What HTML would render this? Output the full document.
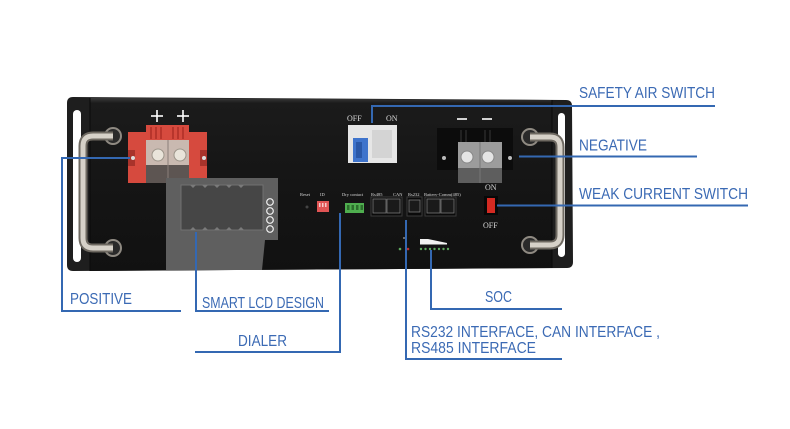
<!DOCTYPE html>
<html><head><meta charset="utf-8"><style>
html,body{margin:0;padding:0;background:#fff;}
svg{display:block;}
.lbl{font-family:"Liberation Sans",Arial,sans-serif;font-size:15.5px;fill:#3b6ab4;}
.tiny{font-family:"Liberation Serif",serif;fill:#d8d8d8;}
</style></head><body>
<svg width="790" height="429" viewBox="0 0 790 429" xmlns="http://www.w3.org/2000/svg">
<rect width="790" height="429" fill="#fff"/>
<defs>
<linearGradient id="body" x1="0" y1="0" x2="0" y2="1">
<stop offset="0" stop-color="#3a3a3a"/><stop offset="0.03" stop-color="#1b1b1b"/><stop offset="0.5" stop-color="#151515"/><stop offset="1" stop-color="#111"/>
</linearGradient>
<linearGradient id="metal" x1="0" y1="0" x2="1" y2="0">
<stop offset="0" stop-color="#8a847b"/><stop offset="0.4" stop-color="#e6e1d8"/><stop offset="1" stop-color="#7d776f"/>
</linearGradient>
</defs>
<!-- outer chassis with ears -->
<path d="M73,97 L566,100 Q572,100 572,106 L573,262 Q573,268 567,268 L73,271 Q67,271 67,265 L67,103 Q67,97 73,97 Z" fill="#1e1e1e"/>
<polygon points="90,98 552,100 552,268 90,271" fill="url(#body)"/>
<line x1="90" y1="98" x2="90" y2="271" stroke="#0a0a0a" stroke-width="1"/>
<line x1="552" y1="100" x2="552" y2="268" stroke="#0a0a0a" stroke-width="1"/>
<!-- slots -->
<rect x="73" y="110" width="8" height="152" rx="4" fill="#fff"/>
<rect x="558" y="113" width="7" height="144" rx="3.5" fill="#fff"/>
<!-- left handle -->
<circle cx="113" cy="136" r="8" fill="#2a2a2a" stroke="#8f8a82" stroke-width="2"/>
<circle cx="113" cy="248" r="8" fill="#2a2a2a" stroke="#8f8a82" stroke-width="2"/>
<path d="M113,136 L93,136 Q83,136 83,146 L83,238 Q83,248 93,248 L113,248" fill="none" stroke="#6e6961" stroke-width="9"/>
<path d="M113,136 L93,136 Q83,136 83,146 L83,238 Q83,248 93,248 L113,248" fill="none" stroke="#d6d1c8" stroke-width="5"/>
<!-- right handle -->
<circle cx="530" cy="137" r="8" fill="#2a2a2a" stroke="#8f8a82" stroke-width="2"/>
<circle cx="530" cy="245" r="8" fill="#2a2a2a" stroke="#8f8a82" stroke-width="2"/>
<path d="M530,137 L550,137 Q560,137 560,147 L560,235 Q560,245 550,245 L530,245" fill="none" stroke="#6e6961" stroke-width="9"/>
<path d="M530,137 L550,137 Q560,137 560,147 L560,235 Q560,245 550,245 L530,245" fill="none" stroke="#d6d1c8" stroke-width="5"/>
<!-- positive terminal -->
<g stroke="#fff" stroke-width="1.6"><line x1="151" y1="116" x2="163" y2="116"/><line x1="157" y1="110" x2="157" y2="122"/><line x1="177" y1="116" x2="189" y2="116"/><line x1="183" y1="110" x2="183" y2="122"/></g>
<path d="M146,125 L189,125 L189,132 L207,132 L207,183 L128,183 L128,132 L146,132 Z" fill="#d64a3e"/>
<g fill="#b8352c"><rect x="150" y="127" width="2" height="12"/><rect x="155" y="127" width="2" height="12"/><rect x="160" y="127" width="2" height="12"/><rect x="172" y="127" width="2" height="12"/><rect x="177" y="127" width="2" height="12"/><rect x="182" y="127" width="2" height="12"/></g>
<rect x="128" y="150" width="7" height="16" fill="#a8332b"/><rect x="200" y="150" width="7" height="16" fill="#a8332b"/>
<circle cx="133" cy="158" r="2" fill="#ddd"/><circle cx="204" cy="158" r="2" fill="#ddd"/>
<rect x="146" y="140" width="43" height="43" fill="#c9b9b0"/>
<rect x="146" y="165" width="43" height="18" fill="#5d5552"/>
<line x1="168" y1="140" x2="168" y2="183" stroke="#8a7f7a" stroke-width="1"/>
<circle cx="158" cy="155" r="6" fill="#e9e4da" stroke="#9d958a"/><circle cx="180" cy="155" r="6" fill="#e9e4da" stroke="#9d958a"/>
<!-- LCD film -->
<path d="M166,178 L278,178 L278,240 L265,240 L262,270 L166,270 Z" fill="#5f5f5f"/>
<rect x="181" y="185" width="82" height="45" fill="#464646" stroke="#707070" stroke-width="1"/>
<g fill="#7a7a7a"><polygon points="190,185 193,188 196,185"/><polygon points="202,185 205,188 208,185"/><polygon points="214,185 217,188 220,185"/><polygon points="226,185 229,188 232,185"/><polygon points="238,185 241,188 244,185"/><polygon points="190,230 193,227 196,230"/><polygon points="202,230 205,227 208,230"/><polygon points="214,230 217,227 220,230"/><polygon points="226,230 229,227 232,230"/><polygon points="238,230 241,227 244,230"/></g>
<g fill="none" stroke="#eee" stroke-width="1.2"><circle cx="270" cy="202" r="3.3"/><circle cx="270" cy="211" r="3.3"/><circle cx="270" cy="220" r="3.3"/><circle cx="270" cy="229" r="3.3"/></g>
<!-- breaker -->
<text x="347" y="121" class="tiny" font-size="8">OFF</text>
<text x="386" y="121" class="tiny" font-size="8">ON</text>
<rect x="348" y="125" width="49" height="38" fill="#e6e6e6"/>
<rect x="372" y="130" width="20" height="28" fill="#d4d4d4"/>
<rect x="353" y="138" width="15" height="24" fill="#3f74cc"/>
<rect x="356" y="142" width="6" height="16" fill="#2a58a8"/>
<!-- negative terminal -->
<g stroke="#fff" stroke-width="1.6"><line x1="457" y1="119" x2="467" y2="119"/><line x1="482" y1="119" x2="492" y2="119"/></g>
<rect x="437" y="128" width="76" height="42" fill="#0c0c0c"/>
<g fill="#222"><rect x="460" y="130" width="2" height="12"/><rect x="465" y="130" width="2" height="12"/><rect x="484" y="130" width="2" height="12"/><rect x="489" y="130" width="2" height="12"/></g>
<circle cx="444" cy="158" r="2" fill="#bbb"/><circle cx="510" cy="158" r="2" fill="#bbb"/>
<rect x="458" y="142" width="44" height="41" fill="#9c9c9c"/>
<rect x="458" y="168" width="44" height="15" fill="#5e5e5e"/>
<line x1="480" y1="142" x2="480" y2="183" stroke="#777" stroke-width="1"/>
<circle cx="467" cy="157" r="6" fill="#e4e4e4" stroke="#888"/><circle cx="488" cy="157" r="6" fill="#e4e4e4" stroke="#888"/>
<!-- weak switch -->
<text x="485" y="190" class="tiny" font-size="8">ON</text>
<rect x="484" y="196" width="14" height="19" fill="#080808"/>
<rect x="487" y="198" width="8" height="15" fill="#d42a22"/>
<text x="483" y="228" class="tiny" font-size="8">OFF</text>
<!-- small labels -->
<g class="tiny" font-size="4.5">
<text x="300" y="196">Reset</text><text x="320" y="196">ID</text><text x="342" y="196">Dry contact</text>
<text x="371" y="196">Rs485</text><text x="393" y="196">CAN</text><text x="408" y="196">Rs232</text><text x="424" y="196">Battery-Comm(485)</text>
</g>
<circle cx="307" cy="207" r="1.5" fill="#444"/>
<rect x="317" y="201" width="12" height="11" fill="#e05454"/>
<g fill="#f6c9c9"><rect x="319" y="203" width="1.5" height="4"/><rect x="322" y="203" width="1.5" height="4"/><rect x="325" y="203" width="1.5" height="4"/></g>
<rect x="345" y="203" width="19" height="10" fill="#4fae4f"/>
<g fill="#2c6e2c"><rect x="347" y="205" width="2.5" height="5"/><rect x="351.5" y="205" width="2.5" height="5"/><rect x="356" y="205" width="2.5" height="5"/><rect x="360.5" y="205" width="2.5" height="5"/></g>
<!-- ports -->
<rect x="371" y="197" width="31" height="19" fill="#0a0a0a" stroke="#3a3a3a"/>
<rect x="373" y="199" width="13" height="14" fill="#1a1a1a" stroke="#777" stroke-width="0.8"/>
<rect x="387" y="199" width="13" height="14" fill="#1a1a1a" stroke="#777" stroke-width="0.8"/>
<rect x="407" y="197" width="15" height="19" fill="#0a0a0a" stroke="#3a3a3a"/>
<rect x="409" y="200" width="11" height="12" fill="#1a1a1a" stroke="#777" stroke-width="0.8"/>
<rect x="425" y="197" width="31" height="19" fill="#0a0a0a" stroke="#3a3a3a"/>
<rect x="427" y="199" width="13" height="14" fill="#1a1a1a" stroke="#777" stroke-width="0.8"/>
<rect x="441" y="199" width="13" height="14" fill="#1a1a1a" stroke="#777" stroke-width="0.8"/>
<!-- LEDs -->
<polygon points="420,239 428,239 447,243 447,244.5 420,244.5" fill="#f2f2f2"/>
<g fill="#5ea85e"><circle cx="421" cy="249" r="1.2"/><circle cx="425.5" cy="249" r="1.2"/><circle cx="430" cy="249" r="1.2"/><circle cx="434.5" cy="249" r="1.2"/><circle cx="439" cy="249" r="1.2"/><circle cx="443.5" cy="249" r="1.2"/><circle cx="448" cy="249" r="1.2"/></g>
<circle cx="400" cy="249" r="1.3" fill="#5ea85e"/><circle cx="408" cy="249" r="1.3" fill="#c03030"/>
<circle cx="404" cy="238" r="1" fill="#888"/>
<!-- callout lines -->
<g fill="none" stroke="#3468b2" stroke-width="2">
<polyline points="372,123 372,106 715,106"/>
<polyline points="519,156.5 697,156.5"/>
<polyline points="497,205.5 748,205.5"/>
<polyline points="130,158 62,158 62,311 181,311"/>
<polyline points="196,232 196,311 329,311"/>
<polyline points="340,213 340,352 195,352"/>
<polyline points="406,220 406,359 562,359"/>
<polyline points="431,250 431,309 562,309"/>
</g>
<!-- labels -->
<text class="lbl" x="579" y="98" textLength="136" lengthAdjust="spacingAndGlyphs">SAFETY AIR SWITCH</text>
<text class="lbl" x="579" y="150.5" textLength="68" lengthAdjust="spacingAndGlyphs">NEGATIVE</text>
<text class="lbl" x="579" y="199" textLength="169" lengthAdjust="spacingAndGlyphs">WEAK CURRENT SWITCH</text>
<text class="lbl" x="70" y="304" textLength="62" lengthAdjust="spacingAndGlyphs">POSITIVE</text>
<text class="lbl" x="202" y="308" textLength="122" lengthAdjust="spacingAndGlyphs">SMART LCD DESIGN</text>
<text class="lbl" x="238" y="346" textLength="49" lengthAdjust="spacingAndGlyphs">DIALER</text>
<text class="lbl" x="485" y="302" textLength="27" lengthAdjust="spacingAndGlyphs">SOC</text>
<text class="lbl" x="411" y="337" textLength="249" lengthAdjust="spacingAndGlyphs">RS232 INTERFACE, CAN INTERFACE ,</text>
<text class="lbl" x="411" y="353" textLength="125" lengthAdjust="spacingAndGlyphs">RS485 INTERFACE</text>
</svg>
</body></html>
